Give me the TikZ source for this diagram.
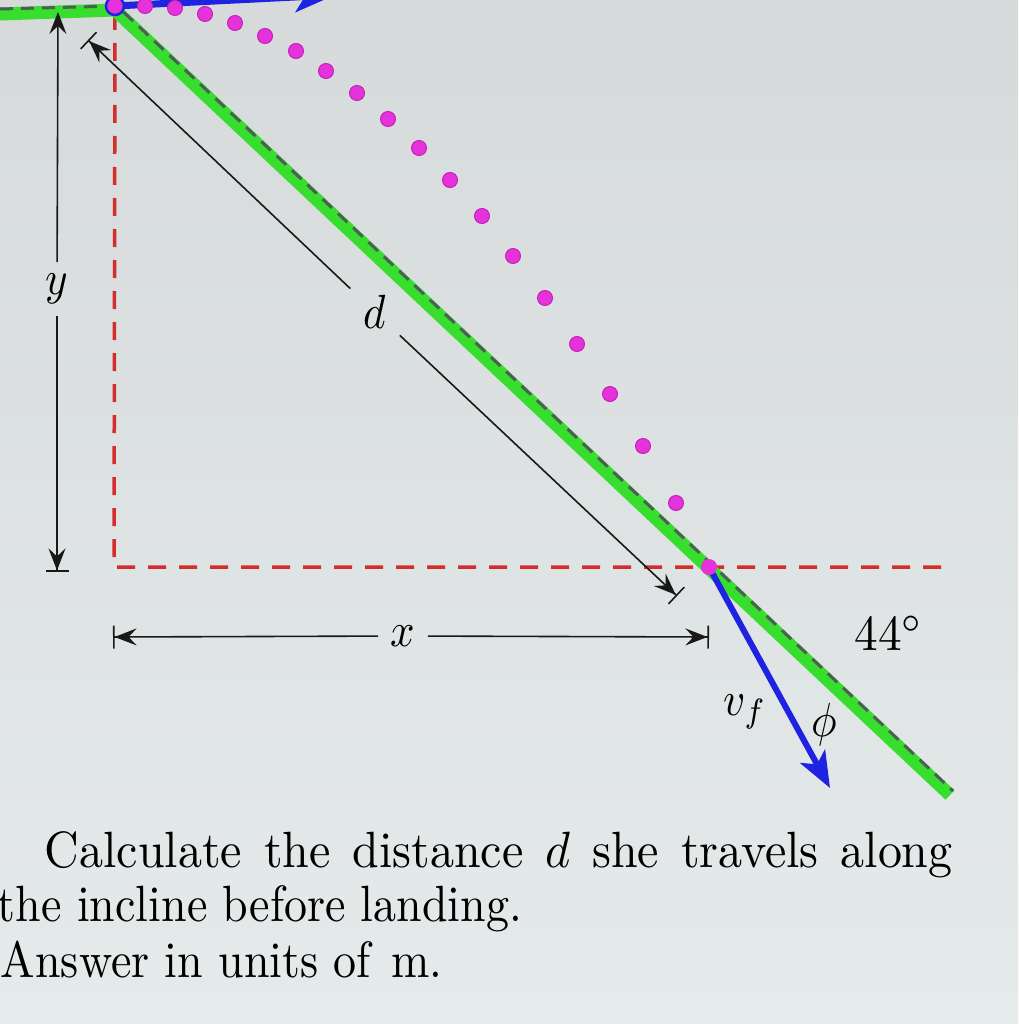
\documentclass[tikz,border=0pt]{standalone}
\usetikzlibrary{arrows.meta}
\definecolor{bgtop}{RGB}{214,218,218}
\definecolor{bgbot}{RGB}{229,234,234}
\definecolor{incl}{RGB}{55,222,45}
\definecolor{dashg}{RGB}{75,95,85}
\definecolor{refred}{RGB}{212,45,45}
\definecolor{dotm}{RGB}{230,50,218}
\definecolor{dotedge}{RGB}{195,35,185}
\definecolor{vblue}{RGB}{30,35,225}
\tikzset{
  dim/.style={line width=1.6pt, draw=black!90},
  lbl/.style={circle, inner sep=0pt, xscale=4.3, yscale=4.8},
  mlbl/.style={inner sep=0pt, xscale=4.3, yscale=4.8},
  dotnode/.style={circle, fill=dotm, draw=dotedge, line width=1pt, minimum size=15pt, inner sep=0pt},
  qtext/.style={anchor=base west, inner sep=0pt, xscale=4.6, yscale=5.1},
  refline/.style={draw=refred, line width=3.5pt, dash pattern=on 18pt off 13pt},
}
\begin{document}
\begin{tikzpicture}[x=1pt,y=-1pt]
\useasboundingbox (0,0) rectangle (1018,1024);
\shade[top color=bgtop,bottom color=bgbot] (0,0) rectangle (1018,1024);
\clip (0,0) rectangle (1018,1024);

% key points
\coordinate (P0) at (0,14);
\coordinate (L) at (115,10);
\coordinate (Iend) at (950,795);
\coordinate (E) at (709,567);
\coordinate (C) at (114,567);
\coordinate (Rend) at (945,567);

% red reference lines
\draw[refline] (115,12) -- (C) -- (Rend);

% incline and platform
\draw[incl, line width=13pt, line join=miter] (P0) -- (L) -- (Iend);
\draw[dashg, line width=3pt, dash pattern=on 13pt off 8pt] (0,9) -- (117,6) -- (953,791);

% initial velocity arrow
\coordinate (Vtip) at (335,-5);
\draw[vblue, line width=7pt, -{Stealth[length=40pt,width=30pt,inset=10pt]}] (115,6) -- (Vtip);

% trajectory dots
\foreach \a/\b [count=\i] in {145/6,175/8,205/14,235/23,265/36,296/51,326/71,357/93,388/119,419/148,450/180,482/216,513/256,545/298,577/344,610/394,643/446,676/503}
  \node[dotnode] (t\i) at (\a,\b) {};
\node[dotnode, draw=vblue, line width=2.5pt, minimum size=18pt] (launch) at (115,6) {};

% final velocity arrow
\coordinate (Vf) at (830,788);
\draw[vblue, line width=6pt, -{Stealth[length=36pt,width=28pt,inset=9pt]}] (E) -- (Vf);
\node[dotnode, draw=none, minimum size=16pt] (land) at (E) {};

% dimension y
\node[lbl, minimum size=10.8pt] (ylab) at (57,289) {$y$};
\coordinate (ytop) at (58,12);
\coordinate (ybot) at (57,572);
\draw[dim, -{Stealth[length=22pt,width=17pt,inset=8pt]}] (ylab) -- (ytop);
\draw[dim, -{Stealth[length=22pt,width=17pt,inset=8pt]Bar[width=23pt]}] (ylab) -- (ybot);

% dimension d
\node[lbl, minimum size=14.7pt] (dlab) at (375,312) {$d$};
\coordinate (dtop) at (88,40);
\coordinate (dbot) at (677,596);
\draw[dim, -{Stealth[length=22pt,width=17pt,inset=8pt]Bar[width=23pt]}] (dlab) -- (dtop);
\draw[dim, -{Stealth[length=22pt,width=17pt,inset=8pt]Bar[width=23pt]}] (dlab) -- (dbot);

% dimension x
\node[lbl, minimum size=11.2pt] (xlab) at (403,636) {$x$};
\coordinate (xl) at (113,637);
\coordinate (xr) at (709,637);
\draw[dim, -{Stealth[length=22pt,width=17pt,inset=8pt]Bar[width=23pt]}] (xlab) -- (xl);
\draw[dim, -{Stealth[length=22pt,width=17pt,inset=8pt]Bar[width=23pt]}] (xlab) -- (xr);

% other labels
\node[mlbl] (vflab) at (745,712) {$v_f$};
\node[mlbl] (philab) at (824,724) {$\phi$};
\node[mlbl, xscale=1.1, yscale=1.05] (anglab) at (889,633) {$44^\circ$};

% question text
\node[qtext, xscale=1.043] (q1) at (44,867) {\hbox to 189.2pt{Calculate\hfill the\hfill distance\hfill $d$\hfill she\hfill travels\hfill along}};
\node[qtext] (q2) at (-3,921) {the incline before landing.};
\node[qtext] (q3) at (0,977) {Answer in units of\hspace{0.45em}m.};
\end{tikzpicture}
\end{document}
